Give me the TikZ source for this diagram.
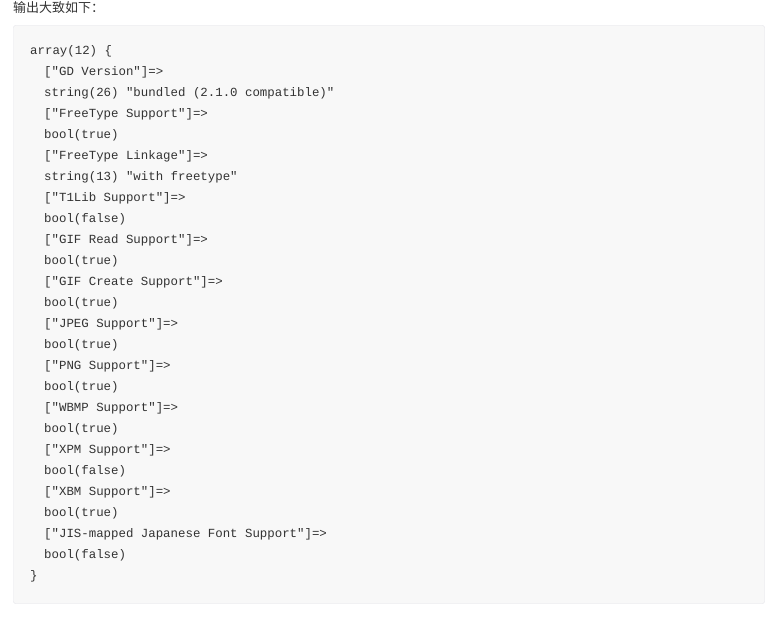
\documentclass[tikz,border=0pt]{standalone}
\usepackage{fontspec}
\newfontfamily\cjk{Noto Sans CJK SC}
\newfontfamily\codefont{Liberation Mono}
\definecolor{txt}{HTML}{333333}
\definecolor{bg}{HTML}{F8F8F8}
\definecolor{bd}{HTML}{E1E1E8}
\begin{document}
\begin{tikzpicture}[x=1pt,y=-1pt,
  code/.style={anchor=west,inner sep=0pt,text=txt,font=\codefont\fontsize{12.4}{14}\selectfont}]
\useasboundingbox (0,0) rectangle (784,620);
\node[anchor=west,inner sep=0pt,text=txt,font=\cjk\fontsize{13}{15}\selectfont] (title) at (13,8) {输出大致如下：};
\draw[bd,fill=bg,rounded corners=2pt] (13.5,25.5) rectangle (764.5,603.5);
\foreach \i/\x/\t in {0/30/{array(12) \{},
 1/44/{["GD Version"]=>},
 2/44/{string(26) "bundled (2.1.0 compatible)"},
 3/44/{["FreeType Support"]=>},
 4/44/{bool(true)},
 5/44/{["FreeType Linkage"]=>},
 6/44/{string(13) "with freetype"},
 7/44/{["T1Lib Support"]=>},
 8/44/{bool(false)},
 9/44/{["GIF Read Support"]=>},
 10/44/{bool(true)},
 11/44/{["GIF Create Support"]=>},
 12/44/{bool(true)},
 13/44/{["JPEG Support"]=>},
 14/44/{bool(true)},
 15/44/{["PNG Support"]=>},
 16/44/{bool(true)},
 17/44/{["WBMP Support"]=>},
 18/44/{bool(true)},
 19/44/{["XPM Support"]=>},
 20/44/{bool(false)},
 21/44/{["XBM Support"]=>},
 22/44/{bool(true)},
 23/44/{["JIS-mapped Japanese Font Support"]=>},
 24/44/{bool(false)},
 25/30/{\}}}
  \node[code] (l\i) at (\x,51+21*\i) {\t};
\end{tikzpicture}
\end{document}
